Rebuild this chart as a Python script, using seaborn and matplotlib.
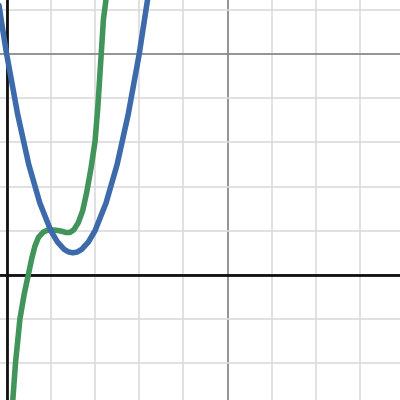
import numpy as np
import pandas as pd
import matplotlib.pyplot as plt
import seaborn as sns

# points
blue_x = [-0.2, -0.1, 0, 0.25, 0.5, 0.75, 1, 1.15, 1.3, 1.4, 1.5, 1.6, 1.7, 1.85, 2, 2.25, 2.5, 2.75, 3, 3.25]
blue_y = [6.28, 5.62, 5.0, 3.63, 2.5, 1.63, 1.0, 0.745, 0.58, 0.52, 0.5, 0.52, 0.58, 0.745, 1.0, 1.63, 2.5, 3.63, 5.0, 6.63]

green_x = [0.12, 0.2, 0.3, 0.4, 0.49, 0.57, 0.64, 0.72, 0.83, 0.92, 1.0, 1.12, 1.24, 1.34, 1.43, 1.52, 1.62, 1.72, 1.81, 1.91, 2.0, 2.06, 2.11, 2.19, 2.27]
green_y = [-3.1, -2.0, -1.0, -0.42, 0.0, 0.38, 0.65, 0.85, 0.97, 1.01, 1.02, 1.01, 0.99, 0.96, 0.96, 1.02, 1.18, 1.45, 1.86, 2.42, 3.02, 3.75, 4.53, 5.78, 6.4]

blue = pd.DataFrame({"x": blue_x, "y": blue_y})
green = pd.DataFrame({"x": green_x, "y": green_y})

sns.set_style("white")
fig = plt.figure(figsize=(4, 4), dpi=100)
ax = fig.add_axes([0, 0, 1, 1])

# grid
for v in range(0, 10):
    c = "#8a8a8a" if v % 5 == 0 else "#dcdcdc"
    ax.axvline(v, color=c, lw=1.3 if v % 5 == 0 else 1.2, zorder=0)
for v in range(-3, 7):
    c = "#8a8a8a" if v % 5 == 0 else "#dcdcdc"
    ax.axhline(v, color=c, lw=1.3 if v % 5 == 0 else 1.2, zorder=0)
ax.axvline(0, color="#111111", lw=2, zorder=1)
ax.axhline(0, color="#111111", lw=2, zorder=1)

sns.lineplot(data=green, x="x", y="y", sort=False, color="#41945a", lw=4, ax=ax, zorder=3)
sns.lineplot(data=blue, x="x", y="y", sort=False, color="#3c6aaa", lw=4, ax=ax, zorder=4)

ax.set_xlim(-0.15, 8.9)
ax.set_ylim(-2.83, 6.22)
ax.set_axis_off()
fig.savefig("out.png", dpi=100)
